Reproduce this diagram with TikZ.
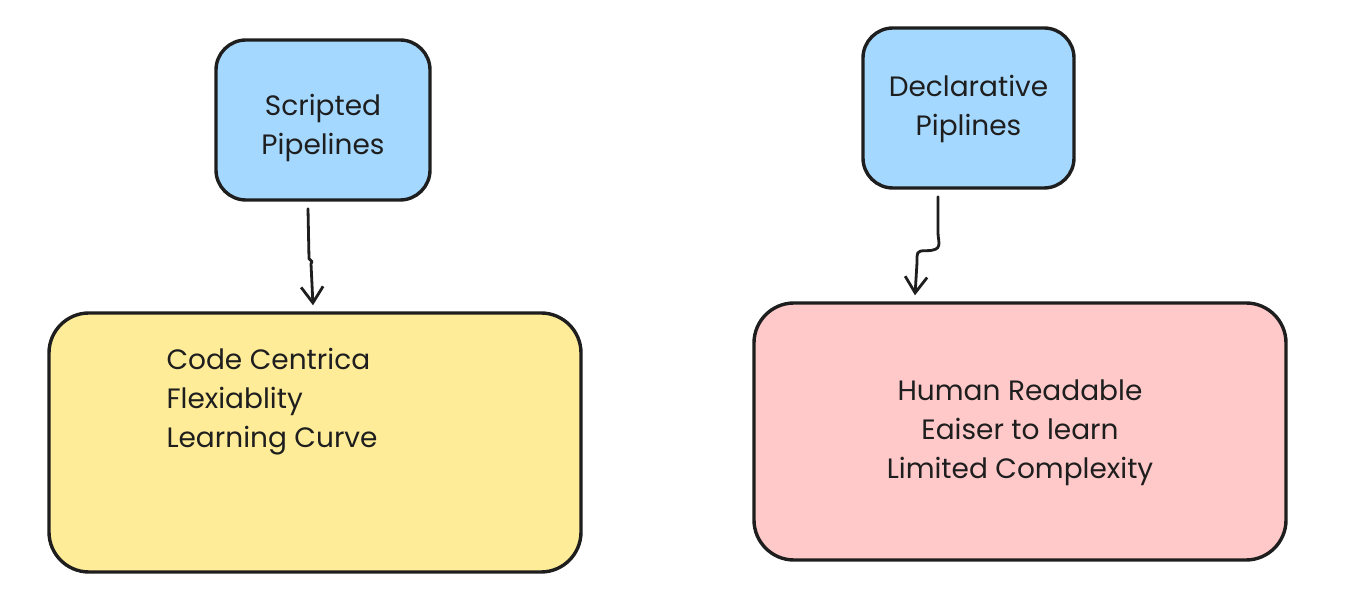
\documentclass[tikz,border=0pt]{standalone}
\usepackage{fontspec}
\setmainfont{Poppins}
\usetikzlibrary{arrows.meta,calc}
\definecolor{sblue}{HTML}{A5D8FF}
\definecolor{syellow}{HTML}{FFEC99}
\definecolor{spink}{HTML}{FFC9C9}
\definecolor{ink}{HTML}{1E1E1E}
\begin{document}
\begin{tikzpicture}[x=1pt,y=1pt,
  box/.style={draw=ink,line width=3.4pt,rounded corners=30pt,inner sep=0pt},
  bigbox/.style={box,rounded corners=40pt},
  txt/.style={font=\fontsize{28}{39}\selectfont,text=ink,align=center},
  arr/.style={draw=ink,line width=2.8pt,line cap=round,line join=round,-{Straight Barb[length=16pt,width=22pt,line width=2.8pt]}}
]
\useasboundingbox (0,0) rectangle (1358,599);
\fill[white] (0,0) rectangle (1358,599);
\node[box,fill=sblue,minimum width=214pt,minimum height=160pt] (sp) at (323,479) {};
\node[txt] (spt) at (323,471) {Scripted\\Pipelines};
\node[box,fill=sblue,minimum width=211pt,minimum height=160pt] (dp) at (968.5,491) {};
\node[txt] (dpt) at (968.5,490) {Declarative\\Piplines};
\node[bigbox,fill=syellow,minimum width=532pt,minimum height=259pt] (yb) at (315,156.5) {};
\node[txt,align=left,anchor=north west] (ybt) at (163,254) {Code Centrica\\Flexiablity\\Learning Curve};
\node[bigbox,fill=spink,minimum width=532pt,minimum height=257pt] (pb) at (1020,167.5) {};
\node[txt] (pbt) at (1020,166) {Human Readable\\Eaiser to learn\\Limited Complexity};
\draw[arr] ($(sp.south)+(-15,-7)$) -- ++(1,-50) -- ++(3,-3) -- ++(-1,-2) -- ($(yb.north)+(-2,6)$);
\draw[arr] ($(dp.south)+(-30.5,-7)$) -- ++(0,-36) .. controls +(0,-10) and +(18,0) .. ++(-12,-18) .. controls +(-10,0) and +(0,10) .. ++(-9,-12) -- ($(pb.north)+(-105,6)$);
\end{tikzpicture}
\end{document}
